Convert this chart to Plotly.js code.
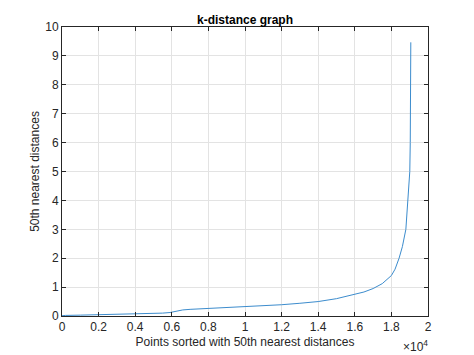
<!DOCTYPE html>
<html>
<head>
<meta charset="utf-8">
<script src="https://cdn.plot.ly/plotly-3.0.1.min.js"></script>
<style>html,body{margin:0;padding:0;background:#fff;}#chart{width:474px;height:355px;}</style>
</head>
<body>
<div id="chart"></div>
<script>
// Sorted point index and 50th-nearest-neighbour distance
const pointIndex = [0, 200, 1000, 2000, 3000, 4000, 5000, 5500, 5900, 6200, 6600, 7000, 8000, 9000, 10000, 11000, 12000, 13000, 14000, 15000, 16000, 16500, 17000, 17500, 18000, 18200, 18420, 18600, 18790, 18910, 18960, 19005, 19030, 19050, 19060];
const kDistance = [0.01, 0.02, 0.03, 0.04, 0.05, 0.07, 0.09, 0.10, 0.12, 0.16, 0.21, 0.23, 0.26, 0.29, 0.32, 0.35, 0.39, 0.44, 0.50, 0.60, 0.74, 0.83, 0.95, 1.12, 1.40, 1.62, 2.00, 2.40, 3.00, 4.00, 4.55, 5.00, 6.00, 8.00, 9.47];

const xTickVals = [0, 2000, 4000, 6000, 8000, 10000, 12000, 14000, 16000, 18000, 20000];
const xTickText = ['0', '0.2', '0.4', '0.6', '0.8', '1', '1.2', '1.4', '1.6', '1.8', '2'];
const yTickVals = [0, 1, 2, 3, 4, 5, 6, 7, 8, 9, 10];

const fontFam = 'Liberation Sans, Arial, sans-serif';
const axisCol = '#262626';

const trace = {
  x: pointIndex,
  y: kDistance,
  type: 'scatter',
  mode: 'lines',
  line: {color: 'rgb(60,140,205)', width: 1},
  hoverinfo: 'skip'
};

const layout = {
  width: 474,
  height: 355,
  margin: {l: 62, r: 46, t: 27, b: 39},
  paper_bgcolor: '#fff',
  plot_bgcolor: '#fff',
  showlegend: false,
  title: {
    text: '<b>k-distance graph</b>',
    font: {family: fontFam, size: 12, color: '#000'},
    x: 0.5, xref: 'paper', xanchor: 'center',
    y: 1, yref: 'paper', yanchor: 'bottom', pad: {b: 3}
  },
  xaxis: {
    range: [0, 20000],
    tickvals: xTickVals,
    ticktext: xTickText,
    ticks: 'inside', ticklen: 4, tickcolor: axisCol, tickwidth: 1,
    showline: true, linecolor: axisCol, linewidth: 1, mirror: 'ticks',
    showgrid: true, gridcolor: '#e3e3e3', gridwidth: 1,
    zeroline: false,
    tickfont: {family: fontFam, size: 12, color: axisCol},
    title: {text: 'Points sorted with 50th nearest distances', font: {family: fontFam, size: 12, color: axisCol}, standoff: 4}
  },
  yaxis: {
    range: [0, 10],
    tickvals: yTickVals,
    ticks: 'inside', ticklen: 4, tickcolor: axisCol, tickwidth: 1,
    showline: true, linecolor: axisCol, linewidth: 1, mirror: 'ticks',
    showgrid: true, gridcolor: '#e3e3e3', gridwidth: 1,
    zeroline: false,
    tickfont: {family: fontFam, size: 12, color: axisCol},
    title: {text: '50th nearest distances', font: {family: fontFam, size: 12, color: axisCol}, standoff: 3}
  },
  annotations: [{
    text: '×10<sup>4</sup>',
    xref: 'paper', yref: 'paper', x: 1, y: 0,
    xanchor: 'right', yanchor: 'top', yshift: -20, xshift: 2,
    showarrow: false,
    font: {family: fontFam, size: 12, color: axisCol}
  }]
};

Plotly.newPlot('chart', [trace], layout, {displayModeBar: false, staticPlot: true});
</script>
</body>
</html>
